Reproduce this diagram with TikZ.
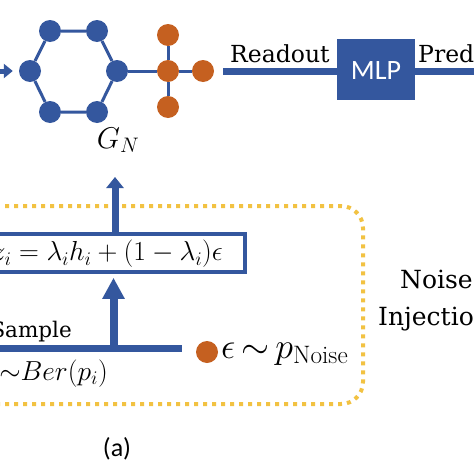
\RequirePackage{fix-cm}
\documentclass[tikz,border=0pt]{standalone}
\usepackage{fontspec}
\newfontfamily\serifA{DejaVu Serif}
\newfontfamily\sansA{Carlito}
\usetikzlibrary{arrows.meta}
\definecolor{nblue}{RGB}{52,87,158}
\definecolor{norange}{RGB}{197,96,32}
\definecolor{nyellow}{RGB}{242,194,66}
\begin{document}
\begin{tikzpicture}[x=1pt,y=-1pt,
  bnode/.style={circle,fill=nblue,minimum size=22pt,inner sep=0pt},
  onode/.style={circle,fill=norange,minimum size=22pt,inner sep=0pt},
  edgeline/.style={draw=nblue,line width=3pt},
  bar/.style={draw=nblue,line width=7pt},
  txt/.style={inner sep=0pt,text=black},
  dotbox/.style={draw=nyellow,line width=4pt,dash pattern=on 4pt off 5pt,rounded corners=22pt},
]
\useasboundingbox (0,0) rectangle (474,474);
\clip (0,0) rectangle (474,474);
\fill[white] (0,0) rectangle (474,474);

% graph nodes
\node[bnode] (h1) at (50,31) {};
\node[bnode] (h2) at (97,31) {};
\node[bnode] (h3) at (117,71) {};
\node[bnode] (h4) at (97,112) {};
\node[bnode] (h5) at (50,112) {};
\node[bnode] (h6) at (30,71) {};
\node[onode] (oc) at (168,71) {};
\node[onode] (ot) at (168,35) {};
\node[onode] (ob) at (168,107) {};
\node[onode] (orr) at (203,71) {};
\draw[edgeline] (h1) -- (h2) -- (h3) -- (h4) -- (h5) -- (h6) -- (h1);
\draw[edgeline] (h3) -- (oc) (oc) -- (ot) (oc) -- (ob) (oc) -- (orr);

% incoming arrow
\coordinate (lin) at (-20,71);
\draw[nblue,line width=5pt,-{Triangle[width=14pt,length=9pt]},shorten >=6pt] (lin) -- (h6.west);

\node[txt,font=\fontsize{30}{34}\selectfont] (gn) at (118,140) {$G_N$};

% readout / MLP
\node[fill=nblue,minimum width=78pt,minimum height=61pt,inner sep=0pt] (mlp) at (376,69.5) {};
\node[txt,text=white,font=\sansA\fontsize{28}{32}\selectfont] (mlpt) at (376,71) {MLP};
\coordinate (rstart) at (223,71.5);
\coordinate (rend) at (490,71.5);
\draw[bar] (rstart) -- (rstart -| mlp.west);
\draw[bar] (rstart -| mlp.east) -- (rend);
\node[txt,anchor=base west,font=\serifA\fontsize{23.5}{28}\selectfont] (readout) at (230,62) {Readout};
\node[txt,anchor=base west,font=\serifA\fontsize{23.5}{28}\selectfont] (pred) at (418,62) {Pred};

% noise injection box
\draw[dotbox] (-40,206) -- (363,206) -- (363,404) -- (-40,404);
\node[draw=nblue,line width=3.5pt,fill=white,minimum width=285pt,minimum height=38pt,inner sep=0pt] (eqbox) at (102.5,253) {};
\node[txt,anchor=east,font=\fontsize{27.5}{32}\selectfont] (eq) at (223,254) {$z_i = \lambda_i h_i + (1-\lambda_i)\epsilon$};

\coordinate (upT) at (115,177);
\draw[nblue,line width=7pt,-{Triangle[width=17pt,length=11pt]}] (eqbox.north -| upT) -- (upT);

\coordinate (sL) at (-20,348);
\coordinate (sR) at (182,348);
\coordinate (sJ) at (113.5,348);
\draw[bar] (sL) -- (sR);
\draw[nblue,line width=8pt,-{Triangle[width=21pt,length=21pt]},shorten >=4pt] (sJ) -- (eqbox.south -| sJ);

\node[txt,anchor=base east,font=\serifA\fontsize{21.5}{26}\selectfont] (sample) at (72,337) {Sample};
\node[txt,anchor=base east,font=\fontsize{27.5}{32}\selectfont] (ber) at (108,380) {${\sim}Ber(p_i)$};

\node[onode] (eps) at (207,352) {};
\node[txt,anchor=base west,font=\fontsize{36}{40}\selectfont] (epst) at (221,358) {$\epsilon{\,\sim\,}p_{\mathrm{Noise}}$};

\node[txt,anchor=base west,font=\serifA\fontsize{25}{30}\selectfont] (noise) at (400,288) {Noise};
\node[txt,anchor=base west,font=\serifA\fontsize{25}{30}\selectfont] (inj) at (378,325) {Injection};

\node[txt,font=\sansA\fontsize{26}{30}\selectfont] (cap) at (117,449) {(a)};
\end{tikzpicture}
\end{document}
